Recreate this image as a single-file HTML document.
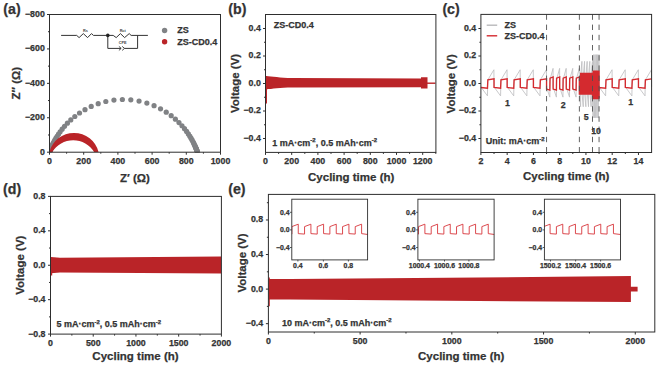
<!DOCTYPE html><html><head><meta charset="utf-8"><style>html,body{margin:0;padding:0;background:#fff;width:659px;height:367px;overflow:hidden}svg{display:block}</style></head><body><svg width="659" height="367" viewBox="0 0 659 367" font-family="Liberation Sans, sans-serif" font-weight="bold">
<style>text{stroke:#333;stroke-width:0.25px;paint-order:stroke}</style>
<rect width="659" height="367" fill="#fff"/>
<defs><clipPath id="clipa"><rect x="49.5" y="14.5" width="171" height="137.7"/></clipPath></defs>
<g fill="#808285" clip-path="url(#clipa)"><circle cx="197.70" cy="152.79" r="2.6"/><circle cx="197.56" cy="152.39" r="2.6"/><circle cx="197.41" cy="151.96" r="2.6"/><circle cx="197.26" cy="151.52" r="2.6"/><circle cx="197.11" cy="151.11" r="2.6"/><circle cx="196.91" cy="150.58" r="2.6"/><circle cx="196.65" cy="149.87" r="2.6"/><circle cx="196.48" cy="149.44" r="2.6"/><circle cx="196.29" cy="148.95" r="2.6"/><circle cx="196.07" cy="148.39" r="2.6"/><circle cx="195.80" cy="147.75" r="2.6"/><circle cx="195.49" cy="147.01" r="2.6"/><circle cx="195.13" cy="146.18" r="2.6"/><circle cx="194.70" cy="145.23" r="2.6"/><circle cx="194.20" cy="144.14" r="2.6"/><circle cx="193.60" cy="142.91" r="2.6"/><circle cx="192.89" cy="141.51" r="2.6"/><circle cx="192.04" cy="139.94" r="2.6"/><circle cx="191.02" cy="138.16" r="2.6"/><circle cx="189.81" cy="136.16" r="2.6"/><circle cx="188.35" cy="133.92" r="2.6"/><circle cx="186.60" cy="131.45" r="2.6"/><circle cx="184.51" cy="128.72" r="2.6"/><circle cx="181.99" cy="125.75" r="2.6"/><circle cx="178.98" cy="122.55" r="2.6"/><circle cx="175.40" cy="119.18" r="2.6"/><circle cx="171.18" cy="115.69" r="2.6"/><circle cx="166.23" cy="112.19" r="2.6"/><circle cx="160.53" cy="108.81" r="2.6"/><circle cx="154.05" cy="105.71" r="2.6"/><circle cx="146.86" cy="103.07" r="2.6"/><circle cx="139.05" cy="101.06" r="2.6"/><circle cx="130.81" cy="99.84" r="2.6"/><circle cx="122.36" cy="99.51" r="2.6"/><circle cx="113.94" cy="100.09" r="2.6"/><circle cx="105.82" cy="101.52" r="2.6"/><circle cx="98.19" cy="103.70" r="2.6"/><circle cx="91.21" cy="106.47" r="2.6"/><circle cx="84.98" cy="109.63" r="2.6"/><circle cx="79.51" cy="113.02" r="2.6"/><circle cx="74.80" cy="116.49" r="2.6"/><circle cx="70.77" cy="119.91" r="2.6"/><circle cx="67.38" cy="123.20" r="2.6"/><circle cx="64.52" cy="126.30" r="2.6"/><circle cx="62.14" cy="129.16" r="2.6"/><circle cx="60.15" cy="131.79" r="2.6"/><circle cx="58.49" cy="134.17" r="2.6"/><circle cx="57.10" cy="136.30" r="2.6"/><circle cx="55.94" cy="138.21" r="2.6"/><circle cx="54.98" cy="139.91" r="2.6"/><circle cx="54.17" cy="141.42" r="2.6"/><circle cx="53.48" cy="142.75" r="2.6"/><circle cx="52.91" cy="143.92" r="2.6"/><circle cx="52.42" cy="144.95" r="2.6"/><circle cx="52.01" cy="145.86" r="2.6"/><circle cx="51.66" cy="146.65" r="2.6"/><circle cx="51.36" cy="147.35" r="2.6"/><circle cx="51.11" cy="147.96" r="2.6"/><circle cx="50.89" cy="148.50" r="2.6"/><circle cx="50.70" cy="148.96" r="2.6"/><circle cx="50.54" cy="149.37" r="2.6"/><circle cx="50.29" cy="150.04" r="2.6"/><circle cx="50.09" cy="150.55" r="2.6"/><circle cx="49.95" cy="150.94" r="2.6"/><circle cx="49.80" cy="151.36" r="2.6"/><circle cx="49.66" cy="151.76" r="2.6"/><circle cx="49.52" cy="152.14" r="2.6"/></g>
<path d="M98.6 152.3 A25.3 25.3 0 0 0 49.4 152.3 L52.2 152.3 A24.3 24.3 0 0 1 94.2 152.3 Z" fill="#ba2428" clip-path="url(#clipa)"/>
<rect x="40" y="152.70" width="70" height="8" fill="#fff"/>
<rect x="49.50" y="14.50" width="171.00" height="137.70" fill="none" stroke="#2e2e2e" stroke-width="1.0"/>
<path d="M49.50 152.20v2.5 M83.70 152.20v2.5 M117.90 152.20v2.5 M152.10 152.20v2.5 M186.30 152.20v2.5 M220.50 152.20v2.5 M66.60 152.20v1.5 M100.80 152.20v1.5 M135.00 152.20v1.5 M169.20 152.20v1.5 M203.40 152.20v1.5" stroke="#2e2e2e" stroke-width="1.0" fill="none"/>
<text x="49.50" y="163.70" font-size="8.8" text-anchor="middle" fill="#333">0</text>
<text x="83.70" y="163.70" font-size="8.8" text-anchor="middle" fill="#333">200</text>
<text x="117.90" y="163.70" font-size="8.8" text-anchor="middle" fill="#333">400</text>
<text x="152.10" y="163.70" font-size="8.8" text-anchor="middle" fill="#333">600</text>
<text x="186.30" y="163.70" font-size="8.8" text-anchor="middle" fill="#333">800</text>
<text x="220.50" y="163.70" font-size="8.8" text-anchor="middle" fill="#333">1000</text>
<path d="M49.50 152.20h-2.5 M49.50 117.77h-2.5 M49.50 83.35h-2.5 M49.50 48.93h-2.5 M49.50 14.50h-2.5 M49.50 134.99h-1.5 M49.50 100.56h-1.5 M49.50 66.14h-1.5 M49.50 31.71h-1.5" stroke="#2e2e2e" stroke-width="1.0" fill="none"/>
<text x="44.80" y="154.60" font-size="8.8" text-anchor="end" fill="#333">0</text>
<text x="44.80" y="120.17" font-size="8.8" text-anchor="end" fill="#333">&#8722;200</text>
<text x="44.80" y="85.75" font-size="8.8" text-anchor="end" fill="#333">&#8722;400</text>
<text x="44.80" y="51.33" font-size="8.8" text-anchor="end" fill="#333">&#8722;600</text>
<text x="44.80" y="16.90" font-size="8.8" text-anchor="end" fill="#333">&#8722;800</text>
<text x="135.00" y="182.00" font-size="11.5" text-anchor="middle" fill="#333">Z&#8242; (&#937;)</text>
<text x="20.20" y="83.20" font-size="11.5" text-anchor="middle" fill="#333" transform="rotate(-90 20.2 83.2)">Z&#8243; (&#937;)</text>
<text x="3.30" y="13.90" font-size="14.2" text-anchor="start" fill="#333">(a)</text>
<circle cx="164.6" cy="30.5" r="2.7" fill="#808285"/>
<circle cx="164.6" cy="41.7" r="2.7" fill="#ba2428"/>
<text x="177.20" y="32.90" font-size="9" text-anchor="start" fill="#333">ZS</text>
<text x="177.20" y="44.50" font-size="9" text-anchor="start" fill="#333">ZS-CD0.4</text>
<path d="M61.1 35.4H76.7 L79.1 37.6 L83.3 33.6 L87.6 37.6 L91.5 33.6 L93.4 35.4 H107.8 M107.8 35.4H113.2 L116.2 37.6 L120.4 33.6 L124.6 37.6 L129.2 33.6 L131.1 35.4 H147.9 M107.8 35.4V48.4H121.0 M124.4 48.4H137.6V35.4" stroke="#333" stroke-width="1.0" fill="none" stroke-linejoin="round"/>
<circle cx="107.8" cy="35.4" r="1.8" fill="#222"/>
<path d="M118.9 46.4L121.2 48.4L118.9 50.4M122.2 46.4L124.5 48.4L122.2 50.4" stroke="#333" stroke-width="0.9" fill="none"/>
<text x="85.50" y="31.60" font-size="3.8" text-anchor="middle" fill="#444" style="stroke:none">Rs</text>
<text x="122.70" y="31.70" font-size="3.8" text-anchor="middle" fill="#444" style="stroke:none">Rct</text>
<text x="122.70" y="44.40" font-size="3.8" text-anchor="middle" fill="#444" style="stroke:none">CPE</text>
<path d="M266 76.0 C272 76.4 280 77.9 292 78.1 L421 78.4 L421 77.3 L427.5 77.3 L427.5 88.6 L421 88.6 L421 87.3 L292 87.6 C280 87.8 272 89 266 89.4 Z" fill="#ba2428"/>
<path d="M266.4 76 V103.6" stroke="#ba2428" stroke-width="1.2"/>
<path d="M427 83.2 H435.4" stroke="#ba2428" stroke-width="1.4"/>
<rect x="265.50" y="14.50" width="170.40" height="137.90" fill="none" stroke="#2e2e2e" stroke-width="1.0"/>
<path d="M265.50 152.40v2.5 M291.70 152.40v2.5 M317.90 152.40v2.5 M344.10 152.40v2.5 M370.30 152.40v2.5 M396.50 152.40v2.5 M422.70 152.40v2.5 M278.60 152.40v1.5 M304.80 152.40v1.5 M331.00 152.40v1.5 M357.20 152.40v1.5 M383.40 152.40v1.5 M409.60 152.40v1.5 M435.80 152.40v1.5" stroke="#2e2e2e" stroke-width="1.0" fill="none"/>
<text x="265.50" y="163.70" font-size="8.8" text-anchor="middle" fill="#333">0</text>
<text x="291.70" y="163.70" font-size="8.8" text-anchor="middle" fill="#333">200</text>
<text x="317.90" y="163.70" font-size="8.8" text-anchor="middle" fill="#333">400</text>
<text x="344.10" y="163.70" font-size="8.8" text-anchor="middle" fill="#333">600</text>
<text x="370.30" y="163.70" font-size="8.8" text-anchor="middle" fill="#333">800</text>
<text x="396.50" y="163.70" font-size="8.8" text-anchor="middle" fill="#333">1000</text>
<text x="422.70" y="163.70" font-size="8.8" text-anchor="middle" fill="#333">1200</text>
<path d="M265.50 28.50h-2.5 M265.50 56.00h-2.5 M265.50 83.50h-2.5 M265.50 111.00h-2.5 M265.50 138.50h-2.5 M265.50 42.25h-1.5 M265.50 69.75h-1.5 M265.50 97.25h-1.5 M265.50 124.75h-1.5" stroke="#2e2e2e" stroke-width="1.0" fill="none"/>
<text x="260.80" y="30.90" font-size="8.8" text-anchor="end" fill="#333">0.4</text>
<text x="260.80" y="58.40" font-size="8.8" text-anchor="end" fill="#333">0.2</text>
<text x="260.80" y="85.90" font-size="8.8" text-anchor="end" fill="#333">0.0</text>
<text x="260.80" y="113.40" font-size="8.8" text-anchor="end" fill="#333">&#8722;0.2</text>
<text x="260.80" y="140.90" font-size="8.8" text-anchor="end" fill="#333">&#8722;0.4</text>
<text x="351.20" y="180.90" font-size="11.5" text-anchor="middle" fill="#333">Cycling time (h)</text>
<text x="238.80" y="83.40" font-size="11.5" text-anchor="middle" fill="#333" transform="rotate(-90 238.8 83.4)">Voltage (V)</text>
<text x="228.30" y="14.00" font-size="14.2" text-anchor="start" fill="#333">(b)</text>
<text x="273.80" y="27.70" font-size="9" text-anchor="start" fill="#333">ZS-CD0.4</text>
<text x="272.30" y="145.70" font-size="9.0" text-anchor="start" fill="#333">1 mA&#183;cm<tspan font-size="6" dy="-3.4">-2</tspan><tspan dy="3.4">, 0.5 mAh&#183;cm</tspan><tspan font-size="6" dy="-3.4">-2</tspan></text>
<path d="M480.90 86.94 L487.46 95.88 L487.73 80.06 L493.90 69.75 L494.03 86.94 L494.03 86.94 L500.59 95.88 L500.86 80.06 L507.03 69.75 L507.16 86.94 L507.16 86.94 L513.73 95.88 L513.99 80.06 L520.16 69.75 L520.29 86.94 L520.29 86.94 L526.86 95.88 L527.12 80.06 L533.29 69.75 L533.42 86.94 L533.42 86.94 L539.99 95.88 L540.25 80.06 L546.42 69.75 L546.55 86.94 L546.55 87.28 L549.83 97.11 L549.96 79.72 L553.05 68.38 L553.12 87.28 L553.12 87.28 L556.40 97.11 L556.53 79.72 L559.61 68.38 L559.68 87.28 L559.68 87.28 L562.96 97.11 L563.09 79.72 L566.18 68.38 L566.25 87.28 L566.25 87.28 L569.53 97.11 L569.66 79.72 L572.74 68.38 L572.81 87.28 L572.81 87.28 L576.09 97.11 L576.22 79.72 L579.31 68.38 L579.38 87.28 L579.38 93.12 L580.62 106.74 L580.75 74.97 L581.92 61.36 L582.00 93.12 L582.00 93.12 L583.25 106.74 L583.38 74.97 L584.55 61.36 L584.63 93.12 L584.63 93.12 L585.87 106.74 L586.01 74.97 L587.17 61.36 L587.25 93.12 L587.25 93.12 L588.50 106.74 L588.63 74.97 L589.80 61.36 L589.88 93.12 L589.88 93.12 L591.13 106.74 L591.26 74.97 L592.43 61.36 L592.50 93.12 L592.50 98.90 L593.13 117.88 L593.19 73.60 L593.78 54.62 L593.82 98.90 L593.82 98.90 L594.44 117.88 L594.51 73.60 L595.09 54.62 L595.13 98.90 L595.13 98.90 L595.75 117.88 L595.82 73.60 L596.40 54.62 L596.44 98.90 L596.44 98.90 L597.07 117.88 L597.13 73.60 L597.72 54.62 L597.76 98.90 L597.76 98.90 L598.38 117.88 L598.45 73.60 L599.03 54.62 L599.07 98.90 L599.07 86.94 L605.63 95.88 L605.90 80.06 L612.07 69.75 L612.20 86.94 L612.20 86.94 L618.76 95.88 L619.03 80.06 L625.20 69.75 L625.33 86.94 L625.33 86.94 L631.89 95.88 L632.16 80.06 L638.33 69.75 L638.46 86.94 L638.46 86.94 L645.02 95.88 L645.29 80.06 L651.46 69.75 L651.59 86.94" stroke="#bfbfc2" stroke-width="0.85" fill="none" stroke-linejoin="round"/>
<path d="M480.90 87.47 L487.46 88.17 L487.86 79.76 L494.03 78.83 L494.03 78.83 L494.03 87.47 L500.59 88.17 L500.99 79.76 L507.16 78.83 L507.16 78.83 L507.16 87.47 L513.73 88.17 L514.12 79.76 L520.29 78.83 L520.29 78.83 L520.29 87.47 L526.86 88.17 L527.25 79.76 L533.42 78.83 L533.42 78.83 L533.42 87.47 L539.99 88.17 L540.38 79.76 L546.55 78.83 L546.55 78.83 L546.55 89.11 L549.83 90.10 L550.03 78.22 L553.12 76.90 L553.12 76.90 L553.12 89.11 L556.40 90.10 L556.59 78.22 L559.68 76.90 L559.68 76.90 L559.68 89.11 L562.96 90.10 L563.16 78.22 L566.25 76.90 L566.25 76.90 L566.25 89.11 L569.53 90.10 L569.72 78.22 L572.81 76.90 L572.81 76.90 L572.81 89.11 L576.09 90.10 L576.29 78.22 L579.38 76.90 L579.38 76.90 L579.38 94.09 L580.69 94.09 L580.69 73.46 L582.00 73.46 L582.00 94.09 L582.00 94.09 L583.31 94.09 L583.31 73.46 L584.63 73.46 L584.63 94.09 L584.63 94.09 L585.94 94.09 L585.94 73.46 L587.25 73.46 L587.25 94.09 L587.25 94.09 L588.57 94.09 L588.57 73.46 L589.88 73.46 L589.88 94.09 L589.88 94.09 L591.19 94.09 L591.19 73.46 L592.50 73.46 L592.50 94.09 L592.50 98.62 L593.16 98.62 L593.16 71.12 L593.82 71.12 L593.82 98.62 L593.82 98.62 L594.47 98.62 L594.47 71.12 L595.13 71.12 L595.13 98.62 L595.13 98.62 L595.79 98.62 L595.79 71.12 L596.44 71.12 L596.44 98.62 L596.44 98.62 L597.10 98.62 L597.10 71.12 L597.76 71.12 L597.76 98.62 L597.76 98.62 L598.41 98.62 L598.41 71.12 L599.07 71.12 L599.07 98.62 L599.07 87.47 L605.63 88.17 L606.03 79.76 L612.20 78.83 L612.20 78.83 L612.20 87.47 L618.76 88.17 L619.16 79.76 L625.33 78.83 L625.33 78.83 L625.33 87.47 L631.89 88.17 L632.29 79.76 L638.46 78.83 L638.46 78.83 L638.46 87.47 L645.02 88.17 L645.42 79.76 L651.59 78.83 L651.59 78.83" stroke="#d42a2f" stroke-width="1.35" fill="none"/>
<path d="M546.55 14.40V152.50M579.38 14.40V152.50M592.50 14.40V152.50M599.07 14.40V152.50" stroke="#505050" stroke-width="0.9" stroke-dasharray="5.4 4.8" fill="none"/>
<rect x="480.90" y="14.40" width="170.70" height="138.10" fill="none" stroke="#2e2e2e" stroke-width="1.0"/>
<path d="M480.90 152.50v2.5 M507.16 152.50v2.5 M533.42 152.50v2.5 M559.68 152.50v2.5 M585.94 152.50v2.5 M612.20 152.50v2.5 M638.46 152.50v2.5 M494.03 152.50v1.5 M520.29 152.50v1.5 M546.55 152.50v1.5 M572.81 152.50v1.5 M599.07 152.50v1.5 M625.33 152.50v1.5" stroke="#2e2e2e" stroke-width="1.0" fill="none"/>
<text x="480.90" y="163.70" font-size="8.8" text-anchor="middle" fill="#333">2</text>
<text x="507.16" y="163.70" font-size="8.8" text-anchor="middle" fill="#333">4</text>
<text x="533.42" y="163.70" font-size="8.8" text-anchor="middle" fill="#333">6</text>
<text x="559.68" y="163.70" font-size="8.8" text-anchor="middle" fill="#333">8</text>
<text x="585.94" y="163.70" font-size="8.8" text-anchor="middle" fill="#333">10</text>
<text x="612.20" y="163.70" font-size="8.8" text-anchor="middle" fill="#333">12</text>
<text x="638.46" y="163.70" font-size="8.8" text-anchor="middle" fill="#333">14</text>
<path d="M480.90 28.50h-2.5 M480.90 56.00h-2.5 M480.90 83.50h-2.5 M480.90 111.00h-2.5 M480.90 138.50h-2.5 M480.90 42.25h-1.5 M480.90 69.75h-1.5 M480.90 97.25h-1.5 M480.90 124.75h-1.5" stroke="#2e2e2e" stroke-width="1.0" fill="none"/>
<text x="476.20" y="30.90" font-size="8.8" text-anchor="end" fill="#333">0.4</text>
<text x="476.20" y="58.40" font-size="8.8" text-anchor="end" fill="#333">0.2</text>
<text x="476.20" y="85.90" font-size="8.8" text-anchor="end" fill="#333">0.0</text>
<text x="476.20" y="113.40" font-size="8.8" text-anchor="end" fill="#333">&#8722;0.2</text>
<text x="476.20" y="140.90" font-size="8.8" text-anchor="end" fill="#333">&#8722;0.4</text>
<text x="566.20" y="180.40" font-size="11.5" text-anchor="middle" fill="#333">Cycling time (h)</text>
<text x="455.40" y="83.80" font-size="11.5" text-anchor="middle" fill="#333" transform="rotate(-90 455.4 83.8)">Voltage (V)</text>
<text x="442.40" y="14.10" font-size="14.2" text-anchor="start" fill="#333">(c)</text>
<path d="M486.7 25.2H497.2" stroke="#b8b8ba" stroke-width="1.4"/>
<path d="M486.7 35.8H497.2" stroke="#d42a2f" stroke-width="1.4"/>
<text x="504.40" y="28.40" font-size="9" text-anchor="start" fill="#333">ZS</text>
<text x="504.40" y="39.00" font-size="9" text-anchor="start" fill="#333">ZS-CD0.4</text>
<text x="485.80" y="143.90" font-size="9.0" text-anchor="start" fill="#333">Unit: mA&#183;cm<tspan font-size="6" dy="-3.4">-2</tspan></text>
<text x="507.50" y="106.00" font-size="8.8" text-anchor="middle" fill="#333">1</text>
<text x="563.30" y="108.20" font-size="8.8" text-anchor="middle" fill="#333">2</text>
<text x="586.30" y="120.00" font-size="8.8" text-anchor="middle" fill="#333">5</text>
<text x="596.10" y="134.00" font-size="8.8" text-anchor="middle" fill="#333">10</text>
<text x="630.60" y="105.00" font-size="8.8" text-anchor="middle" fill="#333">1</text>
<path d="M51 257.0 L60 257.8 L221 256.6 L221 273.6 L60 272.6 L51 273.2 Z" fill="#ba2428"/>
<path d="M51.6 270 V275.6" stroke="#ba2428" stroke-width="1.2"/>
<rect x="50.50" y="196.40" width="170.90" height="137.70" fill="none" stroke="#2e2e2e" stroke-width="1.0"/>
<path d="M50.50 334.10v2.5 M93.22 334.10v2.5 M135.95 334.10v2.5 M178.68 334.10v2.5 M221.40 334.10v2.5 M71.86 334.10v1.5 M114.59 334.10v1.5 M157.31 334.10v1.5 M200.04 334.10v1.5" stroke="#2e2e2e" stroke-width="1.0" fill="none"/>
<text x="50.50" y="345.70" font-size="8.8" text-anchor="middle" fill="#333">0</text>
<text x="93.22" y="345.70" font-size="8.8" text-anchor="middle" fill="#333">500</text>
<text x="135.95" y="345.70" font-size="8.8" text-anchor="middle" fill="#333">1000</text>
<text x="178.68" y="345.70" font-size="8.8" text-anchor="middle" fill="#333">1500</text>
<text x="221.40" y="345.70" font-size="8.8" text-anchor="middle" fill="#333">2000</text>
<path d="M50.50 196.40h-2.5 M50.50 230.83h-2.5 M50.50 265.25h-2.5 M50.50 299.67h-2.5 M50.50 334.10h-2.5 M50.50 213.61h-1.5 M50.50 248.04h-1.5 M50.50 282.46h-1.5 M50.50 316.89h-1.5" stroke="#2e2e2e" stroke-width="1.0" fill="none"/>
<text x="45.50" y="198.80" font-size="8.8" text-anchor="end" fill="#333">0.8</text>
<text x="45.50" y="233.23" font-size="8.8" text-anchor="end" fill="#333">0.4</text>
<text x="45.50" y="267.65" font-size="8.8" text-anchor="end" fill="#333">0.0</text>
<text x="45.50" y="302.07" font-size="8.8" text-anchor="end" fill="#333">&#8722;0.4</text>
<text x="45.50" y="336.50" font-size="8.8" text-anchor="end" fill="#333">&#8722;0.8</text>
<text x="135.50" y="359.60" font-size="11.5" text-anchor="middle" fill="#333">Cycling time (h)</text>
<text x="23.90" y="265.20" font-size="11.5" text-anchor="middle" fill="#333" transform="rotate(-90 23.9 265.2)">Voltage (V)</text>
<text x="3.10" y="193.50" font-size="14.2" text-anchor="start" fill="#333">(d)</text>
<text x="56.40" y="327.20" font-size="9.0" text-anchor="start" fill="#333">5 mA&#183;cm<tspan font-size="6" dy="-3.4">-2</tspan><tspan dy="3.4">, 0.5 mAh&#183;cm</tspan><tspan font-size="6" dy="-3.4">-2</tspan></text>
<path d="M268.9 279 L290 279 L630.9 276.1 L630.9 286.8 L637.6 286.8 L637.6 291.4 L630.9 291.4 L630.9 302.1 L290 299.6 L268.9 299.6 Z" fill="#ba2428"/>
<path d="M269.2 277.6 V306.3" stroke="#ba2428" stroke-width="1.2"/>
<rect x="268.40" y="194.40" width="386.40" height="137.60" fill="none" stroke="#2e2e2e" stroke-width="1.0"/>
<path d="M268.40 332.00v2.5 M360.12 332.00v2.5 M451.84 332.00v2.5 M543.56 332.00v2.5 M635.28 332.00v2.5 M314.26 332.00v1.5 M405.98 332.00v1.5 M497.70 332.00v1.5 M589.42 332.00v1.5" stroke="#2e2e2e" stroke-width="1.0" fill="none"/>
<text x="268.40" y="343.60" font-size="8.8" text-anchor="middle" fill="#333">0</text>
<text x="360.12" y="343.60" font-size="8.8" text-anchor="middle" fill="#333">500</text>
<text x="451.84" y="343.60" font-size="8.8" text-anchor="middle" fill="#333">1000</text>
<text x="543.56" y="343.60" font-size="8.8" text-anchor="middle" fill="#333">1500</text>
<text x="635.28" y="343.60" font-size="8.8" text-anchor="middle" fill="#333">2000</text>
<path d="M268.40 219.98h-2.5 M268.40 254.54h-2.5 M268.40 289.10h-2.5 M268.40 323.66h-2.5 M268.40 202.70h-1.5 M268.40 237.26h-1.5 M268.40 271.82h-1.5 M268.40 306.38h-1.5" stroke="#2e2e2e" stroke-width="1.0" fill="none"/>
<text x="263.20" y="222.38" font-size="8.8" text-anchor="end" fill="#333">0.8</text>
<text x="263.20" y="256.94" font-size="8.8" text-anchor="end" fill="#333">0.4</text>
<text x="263.20" y="291.50" font-size="8.8" text-anchor="end" fill="#333">0.0</text>
<text x="263.20" y="326.06" font-size="8.8" text-anchor="end" fill="#333">&#8722;0.4</text>
<text x="461.20" y="360.00" font-size="11.5" text-anchor="middle" fill="#333">Cycling time (h)</text>
<text x="246.00" y="263.00" font-size="11.5" text-anchor="middle" fill="#333" transform="rotate(-90 246 263)">Voltage (V)</text>
<text x="228.20" y="193.50" font-size="14.2" text-anchor="start" fill="#333">(e)</text>
<text x="281.90" y="325.80" font-size="9.0" text-anchor="start" fill="#333">10 mA&#183;cm<tspan font-size="6" dy="-3.4">-2</tspan><tspan dy="3.4">, 0.5 mAh&#183;cm</tspan><tspan font-size="6" dy="-3.4">-2</tspan></text>
<rect x="291.8" y="199.2" width="75.80" height="60.70" fill="#fff" stroke="none"/>
<clipPath id="ci291"><rect x="291.8" y="199.2" width="75.80" height="60.70"/></clipPath>
<path d="M272.91 224.62 L285.58 224.18 L285.58 233.64 L291.88 234.08 L291.88 226.60 L298.25 224.18 L298.25 224.18 L298.25 233.64 L304.55 234.08 L304.55 226.60 L310.92 224.18 L310.92 224.18 L310.92 233.64 L317.22 234.08 L317.22 226.60 L323.59 224.18 L323.59 224.18 L323.59 233.64 L329.89 234.08 L329.89 226.60 L336.26 224.18 L336.26 224.18 L336.26 233.64 L342.56 234.08 L342.56 226.60 L348.93 224.18 L348.93 224.18 L348.93 233.64 L355.23 234.08 L355.23 226.60 L361.60 224.18 L361.60 224.18 L361.60 233.64 L369.60 234.74" stroke="#d8373c" stroke-width="0.9" fill="none" clip-path="url(#ci291)"/>
<rect x="291.8" y="199.2" width="75.80" height="60.70" fill="none" stroke="#2e2e2e" stroke-width="0.9"/>
<path d="M291.80 212.30h-1.8 M291.80 229.90h-1.8 M291.80 247.50h-1.8" stroke="#2e2e2e" stroke-width="0.8"/>
<text x="289.60" y="214.70" font-size="6.9" text-anchor="end" fill="#333">0.4</text>
<text x="289.60" y="232.30" font-size="6.9" text-anchor="end" fill="#333">0.0</text>
<text x="289.60" y="249.90" font-size="6.9" text-anchor="end" fill="#333">&#8722;0.4</text>
<path d="M297.90 259.90v1.6" stroke="#2e2e2e" stroke-width="0.8"/>
<text x="297.90" y="268.30" font-size="6.9" text-anchor="middle" fill="#333">0.4</text>
<path d="M323.40 259.90v1.6" stroke="#2e2e2e" stroke-width="0.8"/>
<text x="323.40" y="268.30" font-size="6.9" text-anchor="middle" fill="#333">0.6</text>
<path d="M348.40 259.90v1.6" stroke="#2e2e2e" stroke-width="0.8"/>
<text x="348.40" y="268.30" font-size="6.9" text-anchor="middle" fill="#333">0.8</text>
<rect x="417.9" y="199.2" width="76.20" height="60.70" fill="#fff" stroke="none"/>
<clipPath id="ci417"><rect x="417.9" y="199.2" width="76.20" height="60.70"/></clipPath>
<path d="M399.56 224.62 L412.23 224.18 L412.23 233.64 L418.53 234.08 L418.53 226.60 L424.90 224.18 L424.90 224.18 L424.90 233.64 L431.20 234.08 L431.20 226.60 L437.57 224.18 L437.57 224.18 L437.57 233.64 L443.87 234.08 L443.87 226.60 L450.24 224.18 L450.24 224.18 L450.24 233.64 L456.54 234.08 L456.54 226.60 L462.91 224.18 L462.91 224.18 L462.91 233.64 L469.21 234.08 L469.21 226.60 L475.58 224.18 L475.58 224.18 L475.58 233.64 L481.88 234.08 L481.88 226.60 L488.25 224.18 L488.25 224.18 L488.25 233.64 L496.10 234.74" stroke="#d8373c" stroke-width="0.9" fill="none" clip-path="url(#ci417)"/>
<rect x="417.9" y="199.2" width="76.20" height="60.70" fill="none" stroke="#2e2e2e" stroke-width="0.9"/>
<path d="M417.90 212.30h-1.8 M417.90 229.90h-1.8 M417.90 247.50h-1.8" stroke="#2e2e2e" stroke-width="0.8"/>
<text x="415.70" y="214.70" font-size="6.9" text-anchor="end" fill="#333">0.4</text>
<text x="415.70" y="232.30" font-size="6.9" text-anchor="end" fill="#333">0.0</text>
<text x="415.70" y="249.90" font-size="6.9" text-anchor="end" fill="#333">&#8722;0.4</text>
<path d="M419.40 259.90v1.6" stroke="#2e2e2e" stroke-width="0.8"/>
<text x="419.40" y="268.30" font-size="6.9" text-anchor="middle" fill="#333">1000.4</text>
<path d="M444.50 259.90v1.6" stroke="#2e2e2e" stroke-width="0.8"/>
<text x="444.50" y="268.30" font-size="6.9" text-anchor="middle" fill="#333">1000.6</text>
<path d="M468.90 259.90v1.6" stroke="#2e2e2e" stroke-width="0.8"/>
<text x="468.90" y="268.30" font-size="6.9" text-anchor="middle" fill="#333">1000.8</text>
<rect x="544.4" y="199.2" width="76.10" height="60.70" fill="#fff" stroke="none"/>
<clipPath id="ci544"><rect x="544.4" y="199.2" width="76.10" height="60.70"/></clipPath>
<path d="M524.76 224.62 L537.43 224.18 L537.43 233.64 L543.73 234.08 L543.73 226.60 L550.10 224.18 L550.10 224.18 L550.10 233.64 L556.40 234.08 L556.40 226.60 L562.77 224.18 L562.77 224.18 L562.77 233.64 L569.07 234.08 L569.07 226.60 L575.44 224.18 L575.44 224.18 L575.44 233.64 L581.74 234.08 L581.74 226.60 L588.11 224.18 L588.11 224.18 L588.11 233.64 L594.41 234.08 L594.41 226.60 L600.78 224.18 L600.78 224.18 L600.78 233.64 L607.08 234.08 L607.08 226.60 L613.45 224.18 L613.45 224.18 L613.45 233.64 L622.50 234.74" stroke="#d8373c" stroke-width="0.9" fill="none" clip-path="url(#ci544)"/>
<rect x="544.4" y="199.2" width="76.10" height="60.70" fill="none" stroke="#2e2e2e" stroke-width="0.9"/>
<path d="M544.40 212.30h-1.8 M544.40 229.90h-1.8 M544.40 247.50h-1.8" stroke="#2e2e2e" stroke-width="0.8"/>
<text x="542.20" y="214.70" font-size="6.9" text-anchor="end" fill="#333">0.4</text>
<text x="542.20" y="232.30" font-size="6.9" text-anchor="end" fill="#333">0.0</text>
<text x="542.20" y="249.90" font-size="6.9" text-anchor="end" fill="#333">&#8722;0.4</text>
<path d="M550.50 259.90v1.6" stroke="#2e2e2e" stroke-width="0.8"/>
<text x="550.50" y="268.30" font-size="6.9" text-anchor="middle" fill="#333">1500.2</text>
<path d="M575.60 259.90v1.6" stroke="#2e2e2e" stroke-width="0.8"/>
<text x="575.60" y="268.30" font-size="6.9" text-anchor="middle" fill="#333">1500.4</text>
<path d="M600.60 259.90v1.6" stroke="#2e2e2e" stroke-width="0.8"/>
<text x="600.60" y="268.30" font-size="6.9" text-anchor="middle" fill="#333">1500.6</text>
</svg></body></html>
